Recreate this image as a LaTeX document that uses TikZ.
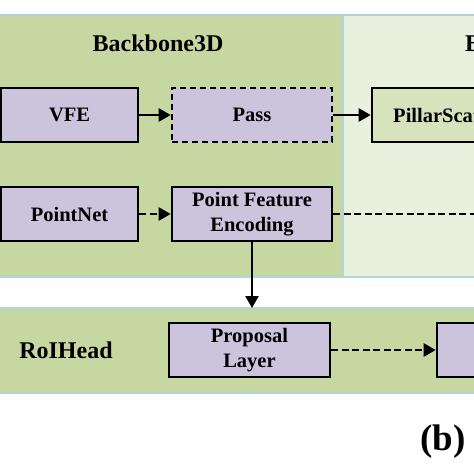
\documentclass[tikz,border=0pt]{standalone}
\usepackage{fontspec}
\setmainfont{Liberation Serif}
\usetikzlibrary{arrows.meta}
\definecolor{panelgreen}{HTML}{C6D7A1}
\definecolor{panellight}{HTML}{E9F0DD}
\definecolor{boxpurple}{HTML}{CCC3DD}
\definecolor{boxgreen}{HTML}{D7E3BD}
\definecolor{panelborder}{HTML}{AFD6DE}
\tikzset{
  panel/.style={draw=panelborder, line width=1.5pt},
  blk/.style={draw=black, line width=2.6pt, fill=boxpurple, minimum height=54pt, inner sep=0pt, align=center, font=\fontsize{20.5}{25}\selectfont\bfseries},
  head/.style={font=\fontsize{24}{28}\selectfont\bfseries, inner sep=0pt},
  arr/.style={line width=2.4pt, -{Triangle[length=12pt,width=13pt]}},
  darr/.style={line width=2.4pt, dash pattern=on 7pt off 3.5pt, -{Triangle[length=12pt,width=13pt]}},
  dline/.style={line width=2.4pt, dash pattern=on 7pt off 3.5pt},
}
\begin{document}
\begin{tikzpicture}[x=1pt,y=-1pt]
\useasboundingbox (0,0) rectangle (474,474);
\clip (0,0) rectangle (474,474);
\fill[white] (0,0) rectangle (474,474);
% panels
\draw[panel, fill=panellight] (343,15) rectangle (560,277);
\draw[panel, fill=panelgreen] (-5,15) rectangle (343,277);
\draw[panel, fill=panelgreen] (-5,308) rectangle (560,393);
% headings
\node[head] (bb3d) at (158,43) {Backbone3D};
\node[head, anchor=west] (bb2d) at (465,43) {Backbone2D};
\node[head] (roih) at (66,350) {RoIHead};
% row 1
\node[blk, minimum width=137pt] (vfe) at (69.5,115) {VFE};
\node[blk, minimum width=160pt, dash pattern=on 6pt off 4pt] (pass) at (252,115) {Pass};
\node[blk, minimum width=154pt, fill=boxgreen] (pillar) at (449,115) {PillarScatter};
% row 2
\node[blk, minimum width=137pt] (pnet) at (69.5,214) {PointNet};
\node[blk, minimum width=160pt] (pfe) at (252,214) {Point Feature\\Encoding};
\coordinate (pfeout) at (500,214);
% roi row
\node[blk, minimum width=161pt] (prop) at (249.5,350) {Proposal\\Layer};
\node[blk, minimum width=160pt] (roinext) at (517,350) {};
\coordinate (roitop) at (252,308);
% connectors
\draw[arr] (vfe) -- (pass);
\draw[arr] (pass) -- (pillar);
\draw[darr] (pnet) -- (pfe);
\draw[dline] (pfe) -- (pfeout);
\draw[arr] (pfe.south) -- (roitop);
\draw[darr] (prop) -- (roinext);
% label
\node[font=\fontsize{37}{40}\selectfont\bfseries, inner sep=0pt] (lbl) at (443,442) {(b)};
\end{tikzpicture}
\end{document}
